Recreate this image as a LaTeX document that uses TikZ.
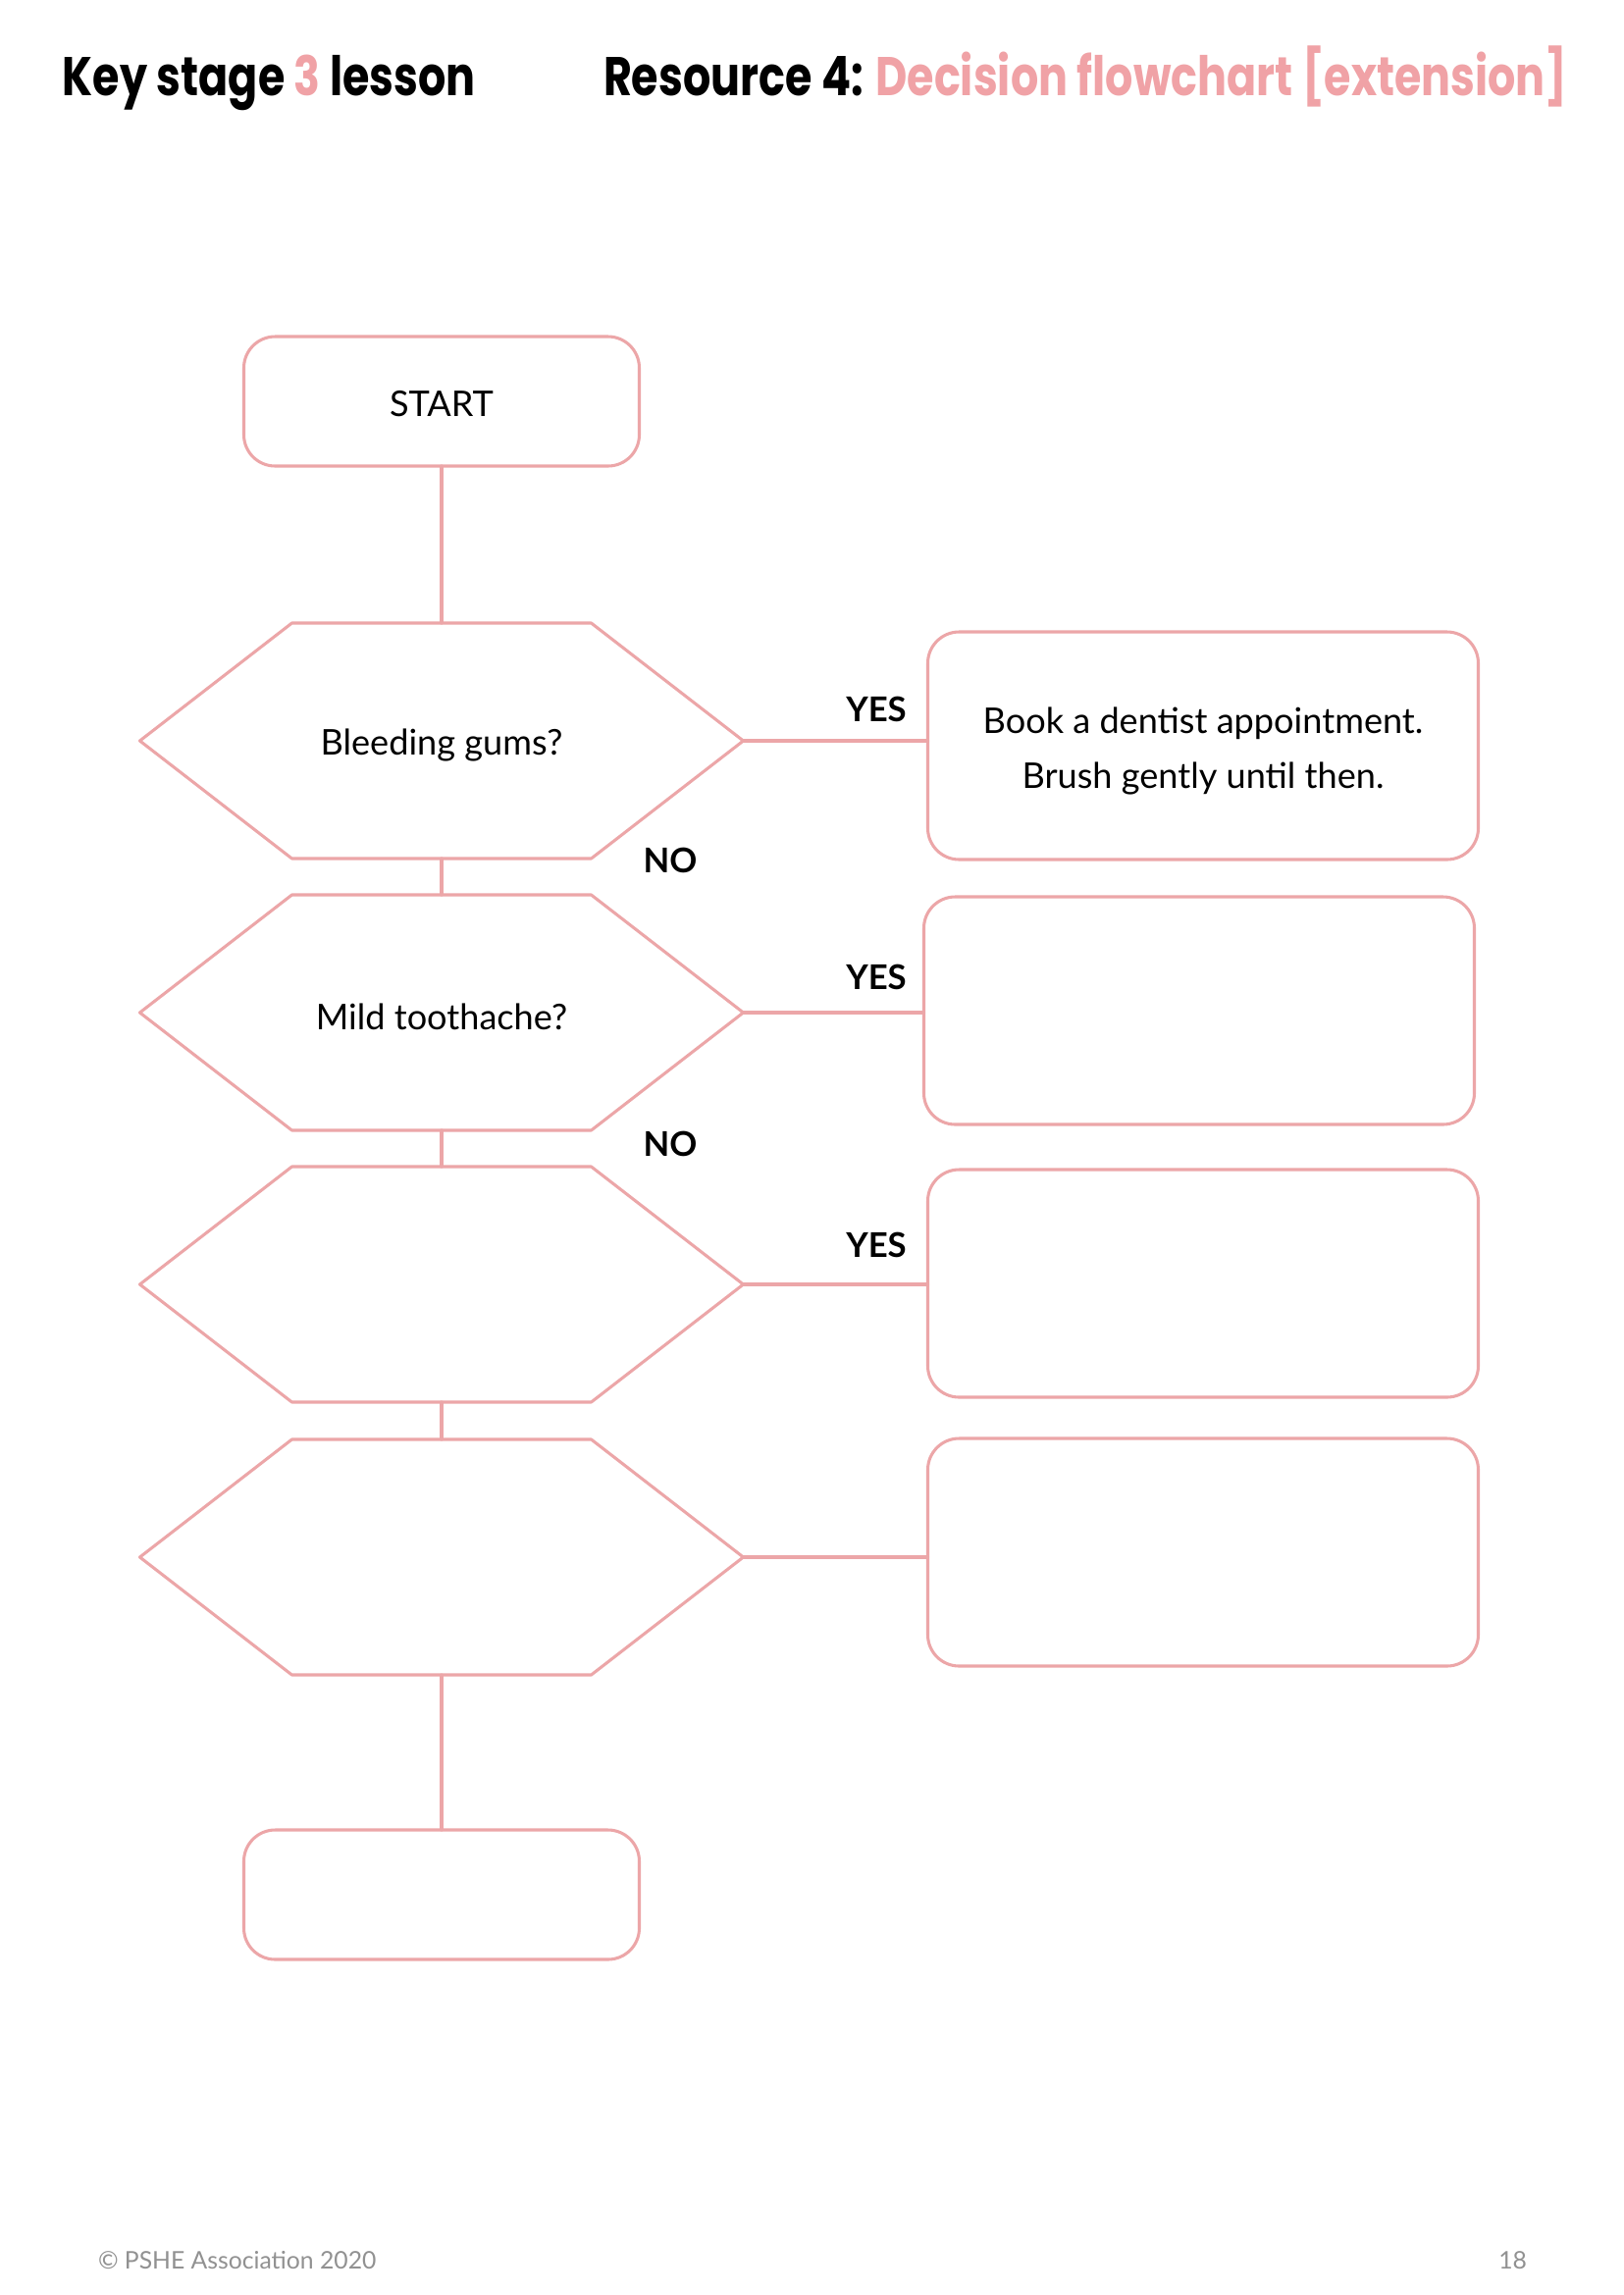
\documentclass[tikz,border=0pt]{standalone}
\usepackage{fontspec}
\setmainfont{Lato}
\newfontfamily\headfont[FakeStretch=0.8]{Poppins}
\usetikzlibrary{shapes.symbols}
\definecolor{rosa}{RGB}{236,166,168}
\definecolor{titlerosa}{RGB}{240,162,166}
\definecolor{footgray}{RGB}{145,145,145}
\def\px{0.36pt}

\begin{document}
\begin{tikzpicture}[x=\px,y=-\px,line join=round,line cap=round,
  every node/.style={inner sep=0pt,outer sep=0pt},
  term/.style={draw=rosa,line width=1.1pt,rounded corners=11.5pt,minimum width=403*\px,minimum height=132*\px,text height=11.5pt,font=\fontsize{13}{15}\selectfont},
  answer/.style={draw=rosa,line width=1.1pt,rounded corners=11.5pt,minimum width=561*\px,minimum height=232*\px,align=center,font=\fontsize{13}{20}\selectfont},
  question/.style={signal,signal to=west and east,signal pointer angle=75.5,draw=rosa,line width=1.1pt,minimum width=615*\px,minimum height=240*\px,text height=12.5pt,font=\fontsize{13}{15}\selectfont},
  link/.style={draw=rosa,line width=1.1pt},
  yesno/.style={font=\bfseries\fontsize{12.5}{15}\selectfont}]
\useasboundingbox (0,0) rectangle (1654,2339);
\fill[white] (0,0) rectangle (1654,2339);
% heading
\node[anchor=base west,font=\headfont\bfseries\fontsize{20}{24}\selectfont] (ks) at (64,97) {Key stage \textcolor{titlerosa}{3} lesson};
\node[anchor=base west,font=\headfont\bfseries\fontsize{20}{24}\selectfont] (res) at (615,97) {Resource 4: \textcolor{titlerosa}{Decision flowchart [extension]}};
% flowchart
\node[term] (start) at (450,409) {START};
\node[question] (q1) at (450,755) {Bleeding gums?};
\node[question] (q2) at (450,1032) {Mild toothache?};
\node[question] (q3) at (450,1309) {};
\node[question] (q4) at (450,1587) {};
\node[term] (stop) at (450,1931) {};
\node[answer,text height=33.6pt] (a1) at (1226,760) {Book a dentist appointment.\\Brush gently until then.};
\node[answer] (a2) at (1222,1030) {};
\node[answer] (a3) at (1226,1308) {};
\node[answer] (a4) at (1226,1582) {};
\draw[link] (start.south)--(q1.north) (q1.south)--(q2.north) (q2.south)--(q3.north)
	(q3.south)--(q4.north) (q4.south)--(stop.north);
\foreach \i in {1,...,4}
	\draw[link] (q\i.east)--(q\i.east -| a\i.west);
\node[yesno] (yes1) at (893,723) {YES};
\node[yesno] (yes2) at (893,996) {YES};
\node[yesno] (yes3) at (893,1269) {YES};
\node[yesno] (no1) at (683,877) {NO};
\node[yesno] (no2) at (683,1166) {NO};
% footer
\node[anchor=base west,text=footgray,font=\fontsize{8.9}{10}\selectfont] (copy) at (100,2312) {© PSHE Association 2020};
\node[anchor=base east,text=footgray,font=\fontsize{8.9}{10}\selectfont] (page) at (1556,2312) {18};
\end{tikzpicture}
\end{document}
